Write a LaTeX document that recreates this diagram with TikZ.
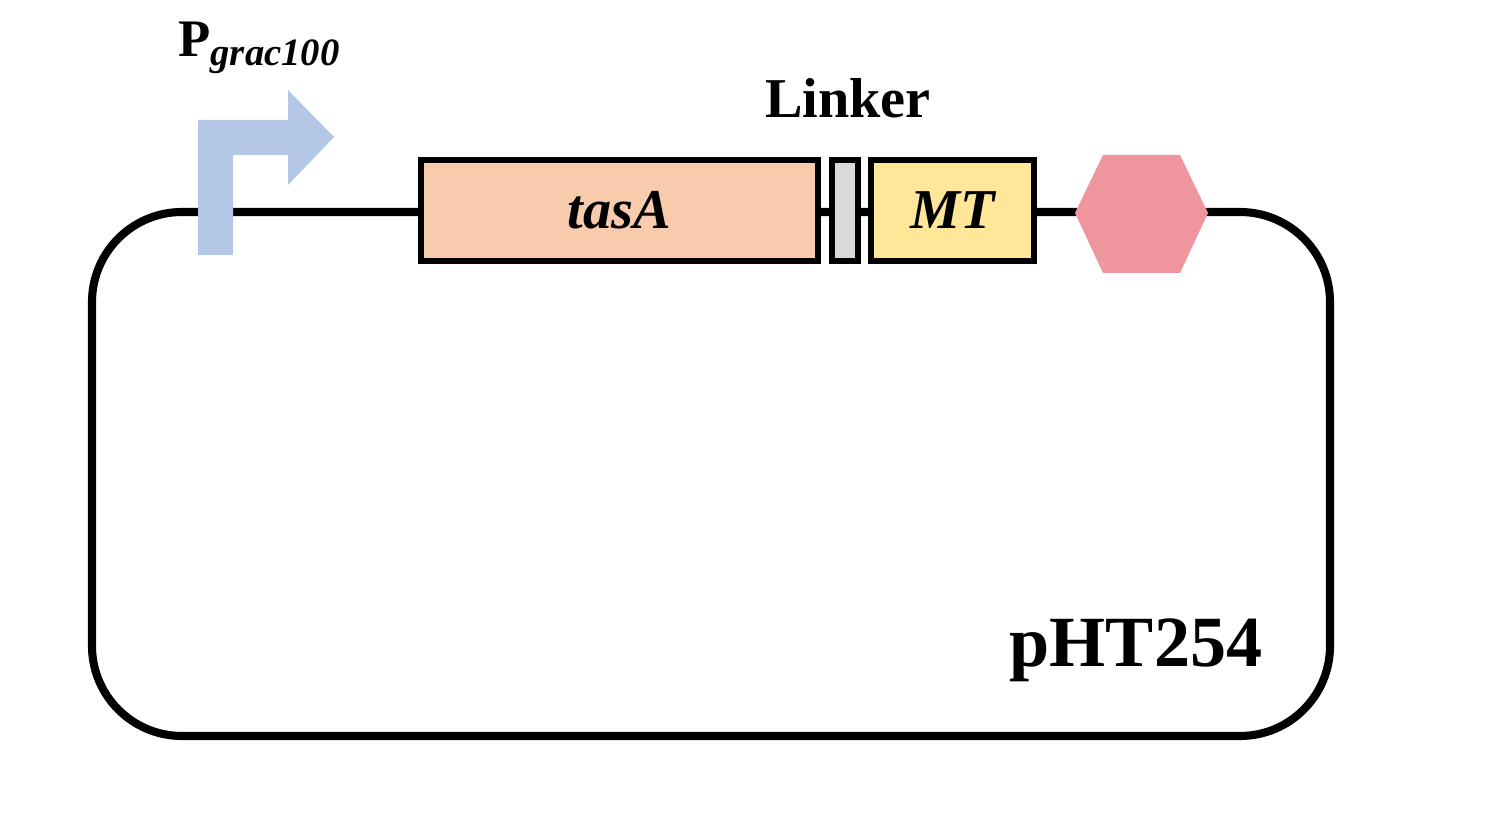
\documentclass[tikz,border=0pt]{standalone}
\usepackage{fontspec}
\setmainfont{Liberation Serif}
\begin{document}
\begin{tikzpicture}[x=0.01cm,y=-0.01cm,
  box/.style={draw=black,line width=1.5pt},
  gene/.style={font=\bfseries\itshape\fontsize{16}{19}\selectfont}]
\definecolor{prom}{HTML}{B4C7E7}
\definecolor{tas}{HTML}{F8CBAD}
\definecolor{lnk}{HTML}{D9D9D9}
\definecolor{mt}{HTML}{FFE699}
\definecolor{term}{HTML}{EE959E}
\useasboundingbox (0,0) rectangle (1488,828);
% plasmid backbone
\draw[line width=2.3pt,rounded corners=0.9cm] (92,212) rectangle (1330,736);
% promoter arrow
\fill[prom] (198,255) -- (198,120) -- (288,120) -- (288,90) -- (334,137) -- (288,185) -- (288,155) -- (233,155) -- (233,255) -- cycle;
\node[font=\bfseries\fontsize{15}{18}\selectfont,anchor=west] (p) at (166,48) {P\textsubscript{\textit{\fontsize{11}{13}\selectfont grac100}}};
% genes
\draw[box,fill=tas] (421,160) rectangle (818,261);
\node[gene] (tasA) at (619.5,210.5) {tasA};
\draw[box,fill=lnk] (832,160) rectangle (858,261);
\coordinate (lk) at (845,210);
\draw[box,fill=mt] (871,160) rectangle (1034,261);
\node[gene] (mt) at (952.5,210.5) {MT};
\node[font=\bfseries\fontsize{16}{19}\selectfont] (lkt) at (848,98) {Linker};
% terminator
\fill[term] (1075,213) -- (1103,155) -- (1180,155) -- (1208,213) -- (1180,273) -- (1103,273) -- cycle;
\node[font=\bfseries\fontsize{20.5}{24}\selectfont] (name) at (1136,650) {pHT254};
\end{tikzpicture}
\end{document}
